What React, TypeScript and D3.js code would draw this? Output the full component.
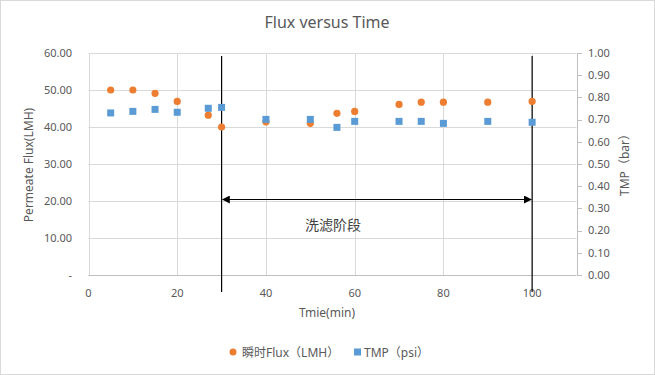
import React, { useEffect, useRef } from 'react'
import * as d3 from 'd3'

// minutes, flux (LMH), TMP (bar)
const times = [5, 10, 15, 20, 27, 30, 40, 50, 56, 60, 70, 75, 80, 90, 100]
const flux = [50.0, 50.0, 49.1, 46.9, 43.2, 40.0, 41.4, 41.0, 43.7, 44.2, 46.1, 46.7, 46.7, 46.7, 46.9]
const tmp = [0.73, 0.737, 0.746, 0.733, 0.751, 0.755, 0.701, 0.701, 0.665, 0.692, 0.692, 0.692, 0.683, 0.692, 0.688]
const phaseStart = 30
const phaseEnd = 100
const phaseLabel = '洗滤阶段'

const xTicks = [0, 20, 40, 60, 80, 100]
const leftTicks = [0, 10, 20, 30, 40, 50, 60]
const rightTicks = d3.range(0, 11).map((i) => i / 10)

const FONT = '"Noto Sans", "Noto Sans CJK SC", sans-serif'
const TEXT = '#595959'
const GRID = '#d9d9d9'
const ORANGE = '#ED7D31'
const BLUE = '#5B9BD5'

export default function App() {
  const svgRef = useRef(null)

  useEffect(() => {
    const svg = d3.select(svgRef.current)
    svg.selectAll('*').remove()

    const width = 655
    const height = 375
    const left = 88.5
    const right = 576.5
    const top = 53
    const bottom = 275

    const x = d3.scaleLinear().domain([0, 110]).range([left, right])
    const yL = d3.scaleLinear().domain([0, 60]).range([bottom, top])
    const yR = d3.scaleLinear().domain([0, 1]).range([bottom, top])

    svg.append('rect')
      .attr('x', 0.5).attr('y', 0.5)
      .attr('width', width - 1).attr('height', height - 1)
      .attr('fill', '#fff').attr('stroke', '#d9d9d9')

    const defs = svg.append('defs')
    defs.append('marker')
      .attr('id', 'arr')
      .attr('viewBox', '0 0 10 10')
      .attr('refX', 9).attr('refY', 5)
      .attr('markerWidth', 8).attr('markerHeight', 8)
      .attr('markerUnits', 'userSpaceOnUse')
      .attr('orient', 'auto-start-reverse')
      .append('path')
      .attr('d', 'M0,0 L10,5 L0,10 Z')
      .attr('fill', '#000')

    // grid
    const g = svg.append('g')
    g.selectAll('.hg')
      .data(leftTicks.filter((d) => d > 0))
      .enter().append('line')
      .attr('x1', left).attr('x2', right)
      .attr('y1', (d) => Math.round(yL(d)) + 0.5)
      .attr('y2', (d) => Math.round(yL(d)) + 0.5)
      .attr('stroke', GRID)
    g.selectAll('.vg')
      .data(xTicks)
      .enter().append('line')
      .attr('y1', top).attr('y2', bottom)
      .attr('x1', (d) => Math.round(x(d)) + 0.5)
      .attr('x2', (d) => Math.round(x(d)) + 0.5)
      .attr('stroke', GRID)

    // bottom axis
    g.append('line')
      .attr('x1', left).attr('x2', right)
      .attr('y1', bottom + 0.5).attr('y2', bottom + 0.5)
      .attr('stroke', '#bfbfbf')

    // right axis
    const rAxis = g.append('g')
    rAxis.append('line')
      .attr('x1', Math.round(right) + 0.5).attr('x2', Math.round(right) + 0.5)
      .attr('y1', top).attr('y2', bottom)
      .attr('stroke', '#bfbfbf')
    rAxis.selectAll('.rt')
      .data(rightTicks)
      .enter().append('line')
      .attr('x1', Math.round(right)).attr('x2', Math.round(right) + 5)
      .attr('y1', (d) => Math.round(yR(d)) + 0.5)
      .attr('y2', (d) => Math.round(yR(d)) + 0.5)
      .attr('stroke', '#bfbfbf')
    rAxis.selectAll('.rl')
      .data(rightTicks)
      .enter().append('text')
      .attr('x', 588)
      .attr('y', (d) => yR(d))
      .attr('dy', '0.35em')
      .attr('font-size', 11)
      .attr('fill', TEXT)
      .attr('font-family', FONT)
      .text((d) => d.toFixed(2))

    // left labels
    g.selectAll('.ll')
      .data(leftTicks)
      .enter().append('text')
      .attr('x', 72)
      .attr('y', (d) => yL(d))
      .attr('dy', '0.35em')
      .attr('text-anchor', 'end')
      .attr('font-size', 11)
      .attr('fill', TEXT)
      .attr('font-family', FONT)
      .text((d) => (d === 0 ? '-' : d.toFixed(2)))

    // x labels
    g.selectAll('.xl')
      .data(xTicks)
      .enter().append('text')
      .attr('x', (d) => x(d))
      .attr('y', 297)
      .attr('text-anchor', 'middle')
      .attr('font-size', 11)
      .attr('fill', TEXT)
      .attr('font-family', FONT)
      .text((d) => d)

    // titles
    const txt = (tx, ty, s, size, rot = 0) =>
      svg.append('text')
        .attr('transform', `translate(${tx},${ty}) rotate(${rot})`)
        .attr('text-anchor', 'middle')
        .attr('font-size', size)
        .attr('fill', TEXT)
        .attr('font-family', FONT)
        .text(s)
    txt(327, 28, 'Flux versus Time', 16)
    txt(33, 165, 'Permeate Flux(LMH)', 12, -90)
    txt(629, 162, 'TMP（bar）', 12, -90)
    txt(327, 317, 'Tmie(min)', 12)

    // phase lines
    const phase = svg.append('g')
    ;[phaseStart, phaseEnd].forEach((t) => {
      phase.append('line')
        .attr('x1', x(t)).attr('x2', x(t))
        .attr('y1', 56).attr('y2', 292)
        .attr('stroke', '#000').attr('stroke-width', 1.2)
    })
    phase.append('line')
      .attr('x1', x(phaseStart) + 1).attr('x2', x(phaseEnd) - 1)
      .attr('y1', 199.5).attr('y2', 199.5)
      .attr('stroke', '#000').attr('stroke-width', 1.2)
      .attr('marker-start', 'url(#arr)')
      .attr('marker-end', 'url(#arr)')
    phase.append('text')
      .attr('x', 333).attr('y', 230)
      .attr('text-anchor', 'middle')
      .attr('font-size', 14)
      .attr('fill', '#404040')
      .attr('font-family', FONT)
      .text(phaseLabel)

    // series
    const data = times.map((t, i) => ({ t, f: flux[i], p: tmp[i] }))
    svg.append('g').selectAll('circle')
      .data(data)
      .enter().append('circle')
      .attr('cx', (d) => x(d.t))
      .attr('cy', (d) => yL(d.f))
      .attr('r', 3.6)
      .attr('fill', ORANGE)
    svg.append('g').selectAll('rect')
      .data(data)
      .enter().append('rect')
      .attr('x', (d) => x(d.t) - 3.5)
      .attr('y', (d) => yR(d.p) - 3.5)
      .attr('width', 7).attr('height', 7)
      .attr('fill', BLUE)

    // legend
    const lg = svg.append('g').attr('font-family', FONT).attr('font-size', 12).attr('fill', TEXT)
    lg.append('circle').attr('cx', 233).attr('cy', 352).attr('r', 3.5).attr('fill', ORANGE)
    lg.append('text').attr('x', 242).attr('y', 356.5).text('瞬时Flux（LMH）')
    lg.append('rect').attr('x', 354).attr('y', 348.5).attr('width', 7).attr('height', 7).attr('fill', BLUE)
    lg.append('text').attr('x', 364).attr('y', 356.5).text('TMP（psi）')
  }, [])

  return (
    <svg
      ref={svgRef}
      width={655}
      height={375}
      style={{ position: 'absolute', left: 0, top: 0, display: 'block' }}
    ></svg>
  )
}
